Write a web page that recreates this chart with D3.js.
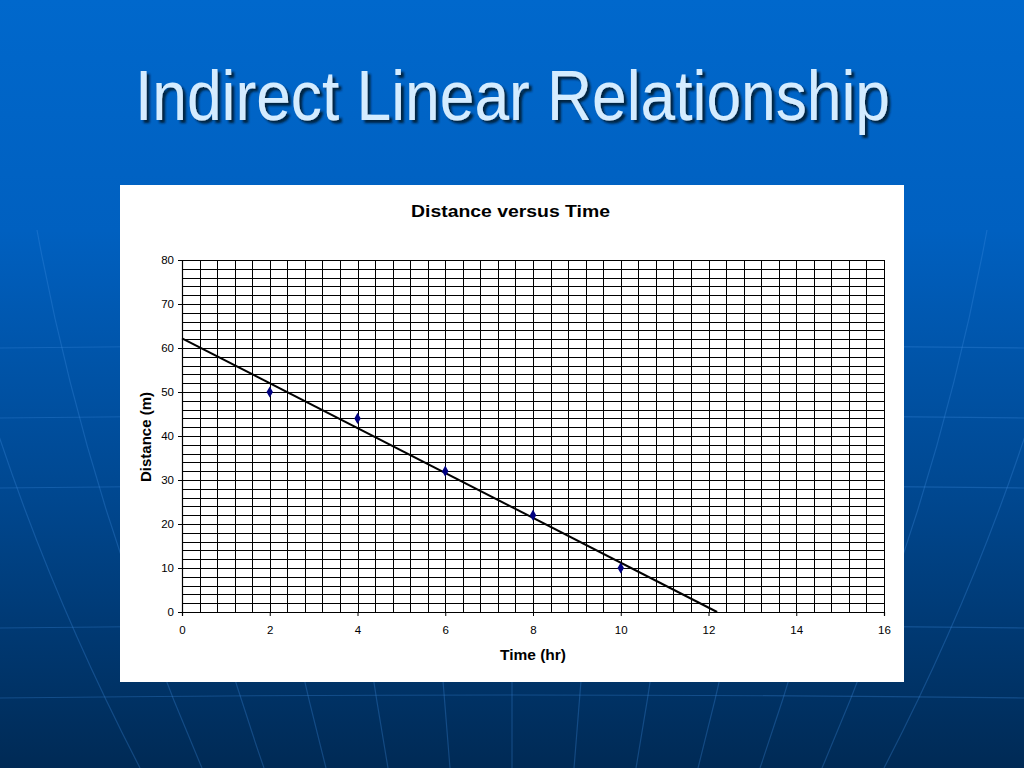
<!DOCTYPE html>
<html>
<head>
<meta charset="utf-8">
<script src="https://cdn.jsdelivr.net/npm/d3@7"></script>
<style>
  html, body { margin: 0; padding: 0; background: #003366; }
  svg { display: block; }
</style>
</head>
<body>
<svg id="slide" width="1024" height="768"></svg>
<script>
// data
var times = [2, 4, 6, 8, 10];
var distances = [50, 44, 32, 22, 10];
var xTicks = [0, 2, 4, 6, 8, 10, 12, 14, 16];
var yTicks = [0, 10, 20, 30, 40, 50, 60, 70, 80];

var svg = d3.select("#slide");
var W = 1024, H = 768;
var font = "Liberation Sans, Arial, sans-serif";

// slide background
var defs = svg.append("defs");
var grad = defs.append("linearGradient").attr("id", "bg")
    .attr("x1", 0).attr("y1", 0).attr("x2", 0).attr("y2", 1);
grad.append("stop").attr("offset", "0%").attr("stop-color", "#0068cc");
grad.append("stop").attr("offset", "30%").attr("stop-color", "#0060c0");
grad.append("stop").attr("offset", "65%").attr("stop-color", "#00478f");
grad.append("stop").attr("offset", "100%").attr("stop-color", "#002a55");
svg.append("rect").attr("width", W).attr("height", H).attr("fill", "url(#bg)");

var shadow = defs.append("filter").attr("id", "shadow")
    .attr("x", "-5%").attr("y", "-20%").attr("width", "110%").attr("height", "140%");
shadow.append("feDropShadow").attr("dx", 3).attr("dy", 3).attr("stdDeviation", 0.8)
    .attr("flood-color", "#06152b").attr("flood-opacity", 0.85);

// faint globe pattern
var deco = svg.append("g").attr("fill", "none")
    .attr("stroke", "#3f8fe0").attr("stroke-opacity", 0.3).attr("stroke-width", 1.2);
[348, 418, 488, 628, 698].forEach(function(y) {
    deco.append("path").attr("d", "M0," + y + " Q512," + (y - 6) + " 1024," + y);
});
d3.range(-6, 7).forEach(function(i) {
    var top = 512 + i * 95;
    var bot = 512 + i * 62;
    deco.append("path")
        .attr("d", "M" + top + ",230 Q" + (top + (bot - top) * 0.3) + ",500 " + bot + ",768");
});

// title
svg.append("text")
    .attr("x", 135).attr("y", 120)
    .attr("textLength", 755).attr("lengthAdjust", "spacingAndGlyphs")
    .attr("font-family", font)
    .attr("font-size", 70)
    .attr("fill", "#d4ecff")
    .attr("filter", "url(#shadow)")
    .text("Indirect Linear Relationship");

// chart box
svg.append("rect")
    .attr("x", 120).attr("y", 185).attr("width", 784).attr("height", 497)
    .attr("fill", "#ffffff");

svg.append("text")
    .attr("x", 411).attr("y", 217)
    .attr("textLength", 199).attr("lengthAdjust", "spacingAndGlyphs")
    .attr("font-family", font)
    .attr("font-size", 16).attr("font-weight", "bold")
    .attr("fill", "#000")
    .text("Distance versus Time");

var x = d3.scaleLinear().domain([0, 16]).range([182, 884]);
var y = d3.scaleLinear().domain([0, 80]).range([612, 260]);
var px = function(v) { return Math.round(v) + 0.5; };

// gridlines
var grid = svg.append("g").attr("stroke", "#000").attr("stroke-width", 1);
grid.selectAll("line.v")
    .data(d3.range(0, 41).map(function(i) { return i * 0.4; }))
    .enter().append("line").attr("class", "v")
    .attr("x1", function(d) { return px(x(d)); }).attr("x2", function(d) { return px(x(d)); })
    .attr("y1", y(0)).attr("y2", y(80));
grid.selectAll("line.h")
    .data(d3.range(0, 41).map(function(i) { return i * 2; }))
    .enter().append("line").attr("class", "h")
    .attr("y1", function(d) { return px(y(d)); }).attr("y2", function(d) { return px(y(d)); })
    .attr("x1", x(0)).attr("x2", x(16));

// axes
var xAxis = svg.append("g").attr("transform", "translate(0," + y(0) + ")")
    .call(d3.axisBottom(x).tickValues(xTicks).tickSize(4).tickPadding(10));
var yAxis = svg.append("g").attr("transform", "translate(" + x(0) + ",0)")
    .call(d3.axisLeft(y).tickValues(yTicks).tickSize(4).tickPadding(4));
[xAxis, yAxis].forEach(function(a) {
    a.select(".domain").attr("stroke", "#000").attr("stroke-width", 1.2);
    a.selectAll(".tick line").attr("stroke", "#000");
    a.selectAll("text").attr("font-family", font).attr("font-size", 11.5).attr("fill", "#000");
});

svg.append("text")
    .attr("x", 500).attr("y", 660)
    .attr("textLength", 66).attr("lengthAdjust", "spacingAndGlyphs")
    .attr("font-family", font).attr("font-size", 14).attr("font-weight", "bold")
    .text("Time (hr)");
svg.append("text")
    .attr("transform", "translate(151,482) rotate(-90)")
    .attr("textLength", 90).attr("lengthAdjust", "spacingAndGlyphs")
    .attr("font-family", font).attr("font-size", 14).attr("font-weight", "bold")
    .text("Distance (m)");

// linear trendline (least squares), drawn from x = 0 to where it meets y = 0
var mx = d3.mean(times), my = d3.mean(distances);
var slope = d3.sum(times, function(t, i) { return (t - mx) * (distances[i] - my); }) /
    d3.sum(times, function(t) { return (t - mx) * (t - mx); });
var intercept = my - slope * mx;
var xEnd = -intercept / slope;
var trend = [[0, intercept], [xEnd, 0]];
svg.append("path")
    .datum(trend)
    .attr("fill", "none").attr("stroke", "#000").attr("stroke-width", 2)
    .attr("d", d3.line().x(function(d) { return x(d[0]); }).y(function(d) { return y(d[1]); }));

// data markers
svg.selectAll("path.pt")
    .data(times)
    .enter().append("path").attr("class", "pt")
    .attr("d", d3.symbol().type(d3.symbolDiamond).size(36))
    .attr("transform", function(d, i) { return "translate(" + x(d) + "," + y(distances[i]) + ")"; })
    .attr("fill", "#000080");
</script>
</body>
</html>
